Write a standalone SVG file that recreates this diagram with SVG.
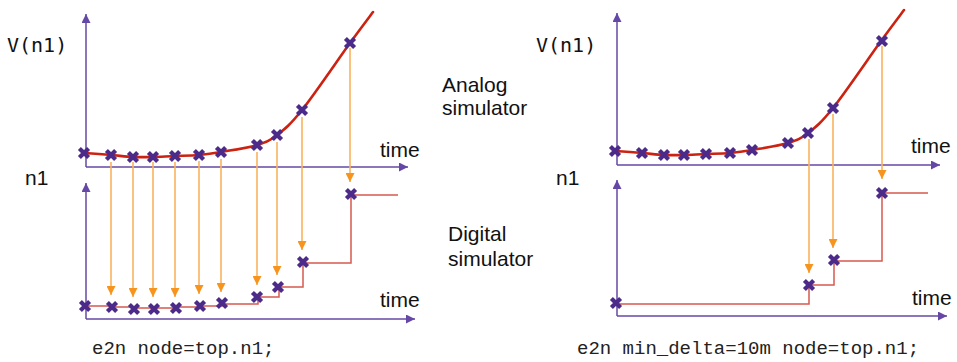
<svg xmlns="http://www.w3.org/2000/svg" xmlns:xlink="http://www.w3.org/1999/xlink" width="957" height="362" viewBox="0 0 957 362">
<style>
.bg{fill:#ffffff}
.axis{stroke:#6548a6;stroke-width:1.5;fill:none}
.curve{stroke:#cc2211;stroke-width:2.6;fill:none;stroke-linecap:round;stroke-linejoin:round}
.step{stroke:#d65a4e;stroke-width:1.5;fill:none}
.arr{stroke:#f9b35c;stroke-width:1.6;fill:none}
.xm{stroke:#4b2a8a;stroke-width:4.2;fill:none}
.mono{font-family:"DejaVu Sans Mono",monospace;font-size:20px;fill:#111}
.code{font-family:"Liberation Mono","Courier New",monospace;font-size:19px;fill:#222}
.sans{font-family:"Liberation Sans",Arial,sans-serif;font-size:21px;fill:#111}
</style>
<defs>
<marker id="ah" viewBox="0 0 10 10" refX="10" refY="5" markerUnits="userSpaceOnUse" markerWidth="10" markerHeight="9" orient="auto">
<path d="M0,0L10,5L0,10z" fill="#6548a6"/>
</marker>
<marker id="oh" viewBox="0 0 10 10" refX="10" refY="5" markerUnits="userSpaceOnUse" markerWidth="10" markerHeight="9" orient="auto">
<path d="M0,0L10,5L0,10z" fill="#f7941d"/>
</marker>
<path id="xm" class="xm" d="M-4.6,-4.6L4.6,4.6M-4.6,4.6L4.6,-4.6"/>
</defs>
<rect class="bg" x="0" y="0" width="957" height="362"/>

<!-- LEFT PANEL -->
<g id="left-analog">
<line class="axis" x1="86" y1="167" x2="86" y2="14" marker-end="url(#ah)"/>
<line class="axis" x1="86" y1="167" x2="408" y2="167" marker-end="url(#ah)"/>
<path class="curve" d="M84,153C88.5,153.3 102.8,154.3 111,155C119.2,155.7 126,156.7 133,157C140,157.3 146,157.2 153,157C160,156.8 167.3,156.3 175,156C182.7,155.7 191.3,155.7 199,155C206.7,154.3 211.3,153.7 221,152C230.7,150.3 247.7,147.8 257,145C266.3,142.2 269.5,140.8 277,135C284.5,129.2 289.8,125.3 302,110C314.2,94.7 338.2,59.3 350,43C361.8,26.7 369.2,17.2 373,12"/>
<use href="#xm" x="84" y="153"/><use href="#xm" x="111" y="155"/><use href="#xm" x="133" y="157"/><use href="#xm" x="153" y="157"/><use href="#xm" x="175" y="156"/><use href="#xm" x="199" y="155"/><use href="#xm" x="221" y="152"/><use href="#xm" x="257" y="145"/><use href="#xm" x="277" y="135"/><use href="#xm" x="302" y="110"/><use href="#xm" x="350" y="43"/>
</g>
<g id="left-digital">
<line class="axis" x1="86" y1="319" x2="86" y2="183" marker-end="url(#ah)"/>
<line class="axis" x1="86" y1="319" x2="415" y2="319" marker-end="url(#ah)"/>
<path class="step" d="M85,306H112V307H134V308H176V307H200V306H222V304H258V297H279V287H303V263H351V195H398"/>
<use href="#xm" x="85" y="306"/><use href="#xm" x="112" y="307"/><use href="#xm" x="134" y="309"/><use href="#xm" x="154" y="309"/><use href="#xm" x="176" y="308"/><use href="#xm" x="200" y="306"/><use href="#xm" x="222" y="303"/><use href="#xm" x="257" y="297"/><use href="#xm" x="278" y="287"/><use href="#xm" x="303" y="262"/><use href="#xm" x="351" y="194"/>
</g>
<g id="left-connectors">
<line class="arr" x1="111" y1="162" x2="111" y2="295" marker-end="url(#oh)"/>
<line class="arr" x1="133" y1="162" x2="133" y2="297" marker-end="url(#oh)"/>
<line class="arr" x1="153" y1="162" x2="153" y2="297" marker-end="url(#oh)"/>
<line class="arr" x1="175" y1="162" x2="175" y2="297" marker-end="url(#oh)"/>
<line class="arr" x1="199" y1="161" x2="199" y2="294" marker-end="url(#oh)"/>
<line class="arr" x1="221" y1="159" x2="221" y2="292" marker-end="url(#oh)"/>
<line class="arr" x1="257" y1="152" x2="257" y2="285" marker-end="url(#oh)"/>
<line class="arr" x1="277" y1="142" x2="277" y2="275" marker-end="url(#oh)"/>
<line class="arr" x1="302" y1="117" x2="302" y2="250" marker-end="url(#oh)"/>
<line class="arr" x1="350" y1="48" x2="350" y2="182" marker-end="url(#oh)"/>
</g>

<!-- RIGHT PANEL -->
<g transform="translate(531,-2)">
<g id="right-analog">
<line class="axis" x1="86" y1="167" x2="86" y2="15" marker-end="url(#ah)"/>
<line class="axis" x1="86" y1="167" x2="409" y2="167" marker-end="url(#ah)"/>
<path class="curve" d="M84,153C88.5,153.3 102.8,154.3 111,155C119.2,155.7 126,156.7 133,157C140,157.3 146,157.2 153,157C160,156.8 167.3,156.3 175,156C182.7,155.7 191.3,155.7 199,155C206.7,154.3 211.3,153.7 221,152C230.7,150.3 247.7,147.8 257,145C266.3,142.2 269.5,140.8 277,135C284.5,129.2 289.8,125.3 302,110C314.2,94.7 338.2,59.3 350,43C361.8,26.7 369.2,17.2 373,12"/>
<use href="#xm" x="84" y="153"/><use href="#xm" x="111" y="155"/><use href="#xm" x="133" y="157"/><use href="#xm" x="153" y="157"/><use href="#xm" x="175" y="156"/><use href="#xm" x="199" y="155"/><use href="#xm" x="221" y="152"/><use href="#xm" x="257" y="145"/><use href="#xm" x="277" y="135"/><use href="#xm" x="302" y="110"/><use href="#xm" x="351" y="43"/>
</g>
<g id="right-digital">
<line class="axis" x1="86" y1="318" x2="86" y2="182" marker-end="url(#ah)"/>
<line class="axis" x1="86" y1="318" x2="416" y2="318" marker-end="url(#ah)"/>
<path class="step" d="M85,306H278V287H303V263H351V195H397"/>
<use href="#xm" x="85" y="305"/><use href="#xm" x="278" y="287"/><use href="#xm" x="303" y="262"/><use href="#xm" x="351" y="195"/>
</g>
<g id="right-connectors">
<line class="arr" x1="278" y1="141" x2="278" y2="275" marker-end="url(#oh)"/>
<line class="arr" x1="302" y1="116" x2="302" y2="250" marker-end="url(#oh)"/>
<line class="arr" x1="351" y1="48" x2="351" y2="181" marker-end="url(#oh)"/>
</g>
</g>

<!-- LABELS -->
<g id="labels">
<text class="mono" x="7" y="52">V(n1)</text>
<text class="sans" x="380" y="157">time</text>
<text class="sans" x="25" y="185">n1</text>
<text class="sans" x="380" y="307">time</text>
<text class="code" x="92" y="354">e2n node=top.n1;</text>
<text class="sans" x="442" y="92">Analog</text>
<text class="sans" x="442" y="115">simulator</text>
<text class="sans" x="448" y="241">Digital</text>
<text class="sans" x="448" y="266">simulator</text>
<text class="mono" x="536" y="52">V(n1)</text>
<text class="sans" x="911" y="153">time</text>
<text class="sans" x="556" y="185">n1</text>
<text class="sans" x="912" y="305">time</text>
<text class="code" x="577" y="354">e2n min_delta=10m node=top.n1;</text>
</g>
</svg>
